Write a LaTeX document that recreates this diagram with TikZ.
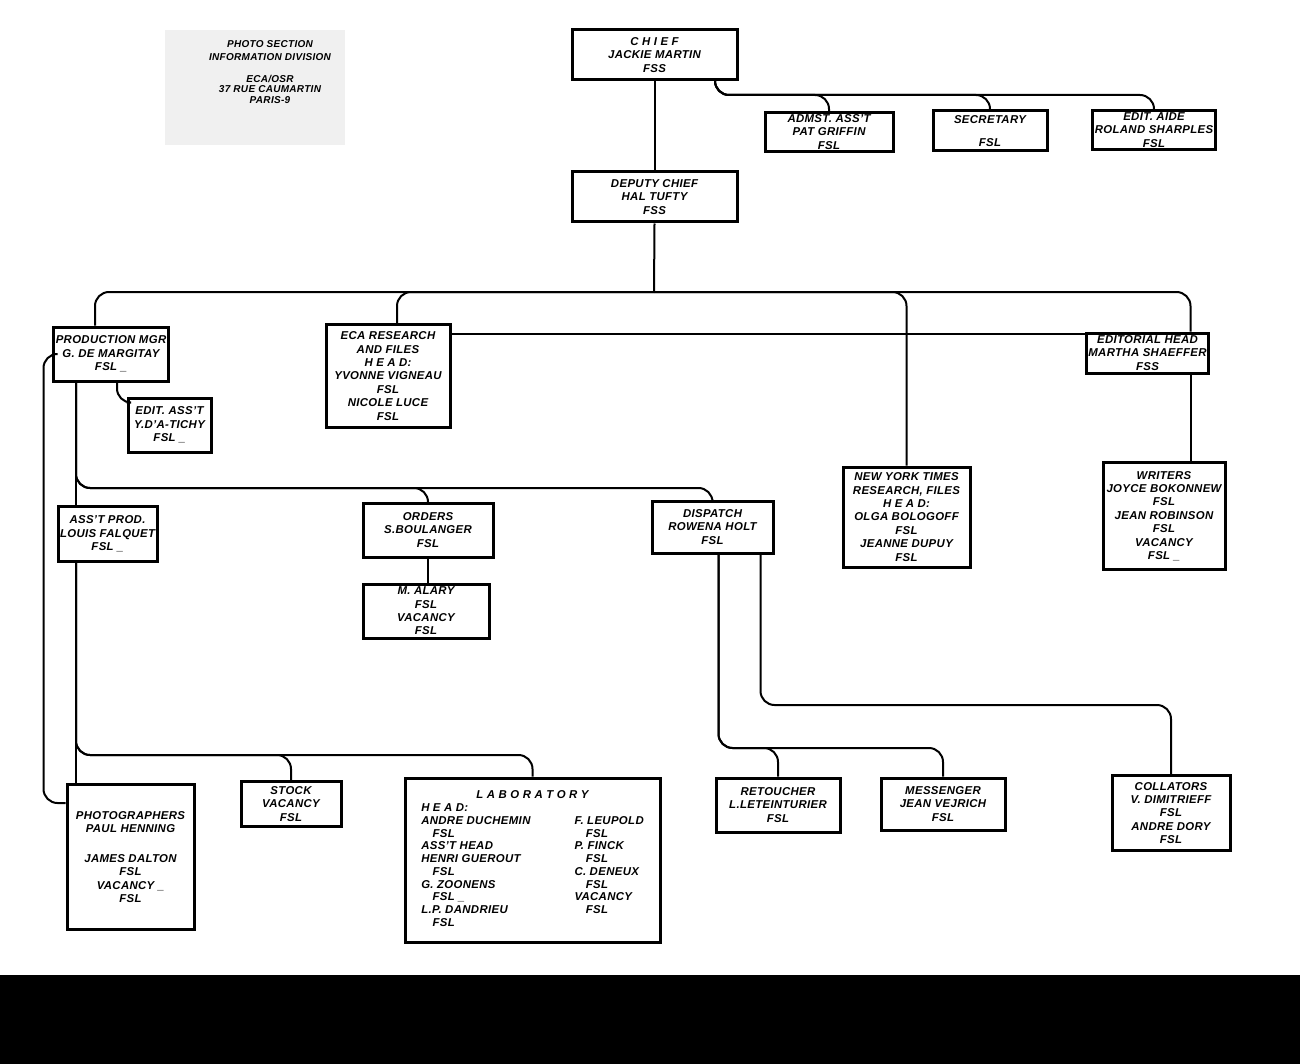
\documentclass[tikz,border=0pt]{standalone}
\usepackage{fontspec}
\setmainfont{Liberation Sans}[LetterSpace=3]
\usetikzlibrary{calc}
\tikzset{
  box/.style={draw=black, line width=1.5pt, fill=white, align=center, inner sep=1pt,
    font=\bfseries\itshape\fontsize{5.7}{6.7}\selectfont},
  conn/.style={line width=1pt, rounded corners=7pt},
  lbl/.style={font=\bfseries\itshape\fontsize{5}{6}\selectfont, align=center}
}
\begin{document}
\begin{tikzpicture}[x=0.5pt,y=-0.5pt]
\useasboundingbox (0,0) rectangle (1300,1064);
\fill[white] (0,0) rectangle (1300,1064);
\fill[black] (0,975) rectangle (1300,1064);
\fill[black!6] (165,30) rectangle (345,145);
\node[lbl] (t1) at (270,44) {PHOTO SECTION};
\node[lbl] (t2) at (270,57) {INFORMATION DIVISION};
\node[lbl] (t3) at (270,79) {ECA/OSR};
\node[lbl] (t4) at (270,89) {37 RUE CAUMARTIN};
\node[lbl] (t5) at (270,100) {PARIS-9};

\node[box,minimum width=82.5pt,minimum height=25pt] (chief) at (654.5,55) {C H I E F\\JACKIE MARTIN\\FSS};
\node[box,minimum width=64pt,minimum height=19.5pt] (admst) at (829,132) {ADMST. ASS'T\\PAT GRIFFIN\\FSL};
\node[box,minimum width=57pt,minimum height=20pt] (sec) at (990,131) {SECRETARY\\[5pt]FSL};
\node[box,minimum width=61pt,minimum height=19pt] (eaide) at (1154,130) {EDIT. AIDE\\ROLAND SHARPLES\\FSL};
\node[box,minimum width=82.5pt,minimum height=25pt] (deputy) at (654.5,197) {DEPUTY CHIEF\\HAL TUFTY\\FSS};
\node[box,minimum width=51pt,minimum height=27pt] (prod) at (111,354) {PRODUCTION MGR\\G. DE MARGITAY\\FSL \_};
\node[box,minimum width=62pt,minimum height=51.5pt] (eca) at (388,376) {ECA RESEARCH\\AND FILES\\H E A D:\\YVONNE VIGNEAU\\FSL\\NICOLE LUCE\\FSL};
\node[box,minimum width=49.5pt,minimum height=20pt] (edit) at (1147.5,353) {EDITORIAL HEAD\\MARTHA SHAEFFER\\FSS};
\node[box,minimum width=41.5pt,minimum height=27pt] (easst) at (169.5,425) {EDIT. ASS'T\\Y.D'A-TICHY\\FSL \_};
\node[box,minimum width=63.5pt,minimum height=50pt] (nyt) at (906.5,517) {NEW YORK TIMES\\RESEARCH, FILES\\H E A D:\\OLGA BOLOGOFF\\FSL\\JEANNE DUPUY\\FSL};
\node[box,minimum width=61pt,minimum height=53.5pt] (writers) at (1164,516) {WRITERS\\JOYCE BOKONNEW\\FSL\\JEAN ROBINSON\\FSL\\VACANCY\\FSL \_};
\node[box,minimum width=49.5pt,minimum height=27.5pt] (assprod) at (107.5,534) {ASS'T PROD.\\LOUIS FALQUET\\FSL \_};
\node[box,minimum width=65pt,minimum height=27pt] (orders) at (428,530) {ORDERS\\S.BOULANGER\\FSL};
\node[box,minimum width=63pt,minimum height=27pt] (alary) at (426,611) {M. ALARY\\FSL\\VACANCY\\FSL};
\node[box,minimum width=60.5pt,minimum height=26pt] (dispatch) at (712.5,527) {DISPATCH\\ROWENA HOLT\\FSL};
\node[box,minimum width=63.5pt,minimum height=72.5pt] (photo) at (130.5,857) {PHOTOGRAPHERS\\PAUL HENNING\\[8pt]JAMES DALTON\\FSL\\VACANCY \_\\FSL};
\node[box,minimum width=50pt,minimum height=22.5pt] (stock) at (291,804) {STOCK\\VACANCY\\FSL};
\node[box,minimum width=127.5pt,minimum height=82pt] (lab) at (532.5,860) {\def\arraystretch{0.95}\begin{tabular}{@{}l@{\hspace{22pt}}l@{}}
\multicolumn{2}{c}{L A B O R A T O R Y}\\
H E A D: & \\
ANDRE DUCHEMIN & F. LEUPOLD\\
\quad FSL & \quad FSL\\
ASS'T HEAD & P. FINCK\\
HENRI GUEROUT & \quad FSL\\
\quad FSL & C. DENEUX\\
G. ZOONENS & \quad FSL\\
\quad FSL \_ & VACANCY\\
L.P. DANDRIEU & \quad FSL\\
\quad FSL & \\
\end{tabular}};
\node[box,minimum width=62pt,minimum height=27pt] (retouch) at (778,805) {RETOUCHER\\L.LETEINTURIER\\FSL};
\node[box,minimum width=62pt,minimum height=26pt] (mess) at (943,804) {MESSENGER\\JEAN VEJRICH\\FSL};
\node[box,minimum width=59pt,minimum height=37.5pt] (coll) at (1171,813) {COLLATORS\\V. DIMITRIEFF\\FSL\\ANDRE DORY\\FSL};

% chief
\coordinate (c0) at (715,80);
\coordinate (c1) at (715,95);
\draw[conn] (c0) |- (sec.north |- c1) -- (sec.north);
\draw[conn] (c0) |- (admst.north |- c1) -- (admst.north);
\draw[conn] (c0) |- (eaide.north |- c1) -- (eaide.north);
\draw[line width=1pt] (chief.south) -- (deputy.north);
% deputy bus
\coordinate (b1) at (654,292);
\draw[line width=1pt] (deputy.south) -- (b1);
\draw[conn] (b1) -| ($(prod.north)+(-16,0)$);
\draw[conn] (b1) -| ($(eca.north)+(9,0)$);
\draw[conn] (b1) -| (nyt.north);
\draw[conn] (b1) -| ($(edit.north)+(43,0)$);
\draw[line width=1pt] ($(edit.south)+(43,0)$) -- (writers.north -| {$(edit.south)+(43,0)$});
% eca to editorial
\coordinate (e1) at ($(eca.north east)+(0,11)$);
\draw[line width=1pt] (e1) -- (e1 -| edit.west);
% production
\draw[conn] ($(prod.south)+(6,0)$) |- ($(easst.north west)+(0,6)$);
\draw[conn] (prod.west) -| ($(photo.north west)+(-22,20)$) -- ($(photo.north west)+(0,20)$);
\coordinate (q1) at (425,488);
\coordinate (p0) at ($(prod.south)+(-35,0)$);
\draw[conn] (p0) |- (orders.north |- q1) -- (orders.north);
\draw[conn] (p0) |- (dispatch.north |- q1) -- (dispatch.north);
\draw[line width=1pt] (p0) -- (assprod.north -| p0);
\draw[line width=1pt] (assprod.south -| p0) -- (photo.north -| p0);
\coordinate (q3) at (283,755);
\draw[conn] (assprod.south -| p0) |- (stock.north |- q3) -- (stock.north);
\draw[conn] (assprod.south -| p0) |- (lab.north |- q3) -- (lab.north);
\draw[line width=1pt] (orders.south) -- (orders.south |- alary.north);
% dispatch
\coordinate (d1) at ($(dispatch.south)+(6,0)$);
\coordinate (d2) at ($(dispatch.south)+(48,0)$);
\coordinate (q5) at (860,748);
\coordinate (q6) at (1000,705);
\draw[conn] (d1) |- (retouch.north |- q5) -- (retouch.north);
\draw[conn] (d1) |- (mess.north |- q5) -- (mess.north);
\draw[conn] (d2) |- (coll.north |- q6) -- (coll.north);
\end{tikzpicture}
\end{document}
